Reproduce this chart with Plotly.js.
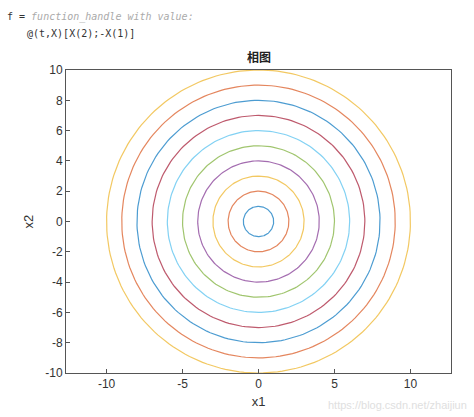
<!DOCTYPE html>
<html><head><meta charset="utf-8">
<script src="https://cdn.plot.ly/plotly-3.0.1.min.js"></script>
<style>body{margin:0;background:#fff}#p{width:474px;height:417px}</style>
</head><body><div id="p"></div>
<script>
const radii = [1,2,3,4,5,6,7,8,9,10];
const colors = ['#0072BD','#D95319','#EDB120','#7E2F8E','#77AC30','#4DBEEE','#A2142F','#0072BD','#D95319','#EDB120'];
const xTicks = [-10,-5,0,5,10];
const yTicks = [-10,-8,-6,-4,-2,0,2,4,6,8,10];
const titleText = '相图';
const xLabel = 'x1';
const yLabel = 'x2';

const N = 200;
const traces = radii.map((r,i)=>{
  const x=[],y=[];
  for(let k=0;k<=N;k++){const t=2*Math.PI*k/N;x.push(r*Math.sin(t));y.push(r*Math.cos(t));}
  return {x,y,mode:'lines',type:'scatter',line:{color:colors[i],width:1.2},opacity:0.7,hoverinfo:'skip'};
});

const ax = {showline:true,mirror:true,linecolor:'#555',linewidth:1,ticks:'inside',ticklen:4,tickcolor:'#555',
  showgrid:false,zeroline:false,tickfont:{family:'Liberation Sans, Arial',size:12,color:'#333'}};
const layout = {
  width:474,height:417,showlegend:false,paper_bgcolor:'#fff',plot_bgcolor:'#fff',
  margin:{l:66,r:23,t:70,b:44},
  xaxis:Object.assign({},ax,{range:[-12.67,12.67],tickvals:xTicks,ticktext:xTicks.map(String),
    title:{text:xLabel,font:{family:'Liberation Sans, Arial',size:13,color:'#333'},standoff:6}}),
  yaxis:Object.assign({},ax,{range:[-10,10],tickvals:yTicks,ticktext:yTicks.map(String),
    title:{text:yLabel,font:{family:'Liberation Sans, Arial',size:13,color:'#333'},standoff:8}}),
  annotations:[
    {text:'<b>'+titleText+'</b>',xref:'paper',yref:'paper',x:0.5,y:1,yshift:3,yanchor:'bottom',showarrow:false,
     font:{family:'Noto Sans CJK SC',size:12,color:'#222'}},
    {text:'f = <i><span style="color:#aaa">function_handle with value:</span></i>',
     xref:'paper',x:-66/385,xanchor:'left',yref:'paper',y:1,yshift:53,yanchor:'middle',showarrow:false,
     font:{family:'DejaVu Sans Mono',size:10,color:'#333'},xshift:5},
    {text:'@(t,X)[X(2);-X(1)]',xref:'paper',x:-66/385,xanchor:'left',xshift:25,yref:'paper',y:1,yshift:37,
     yanchor:'middle',showarrow:false,font:{family:'DejaVu Sans Mono',size:10,color:'#333'}},
    {text:'https://blog.csdn.net/zhaijiun',xref:'paper',x:1,xanchor:'right',xshift:18,yref:'paper',y:0,yshift:-32,
     yanchor:'middle',showarrow:false,font:{family:'Liberation Sans, Arial',size:11,color:'#e0e0e0'}}
  ]
};
Plotly.newPlot('p',traces,layout,{displayModeBar:false,staticPlot:true});
</script></body></html>
